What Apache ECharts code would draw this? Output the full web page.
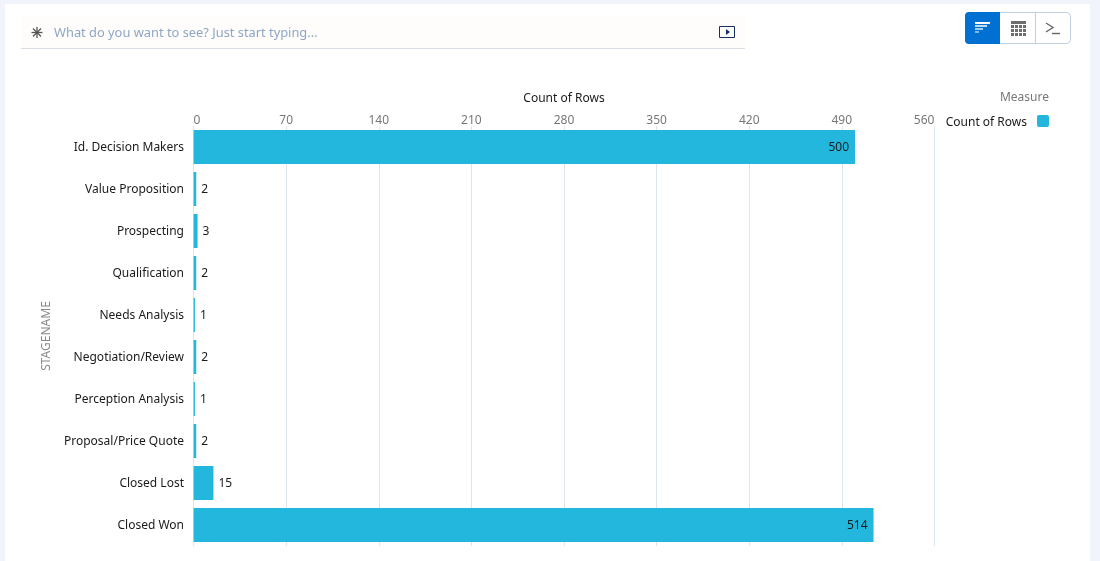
<!DOCTYPE html>
<html>
<head>
<meta charset="utf-8">
<style>html,body{margin:0;padding:0;background:#f1f4fa}#c{width:1100px;height:561px}</style>
<script src="https://cdn.jsdelivr.net/npm/echarts@6/dist/echarts.min.js"></script>
</head>
<body>
<div id="c"></div>
<script>
const categories = ['Id. Decision Makers','Value Proposition','Prospecting','Qualification','Needs Analysis','Negotiation/Review','Perception Analysis','Proposal/Price Quote','Closed Lost','Closed Won'];
const countOfRows = [500,2,3,2,1,2,1,2,15,514];
const seriesName = 'Count of Rows';
const xAxisName = 'Count of Rows';
const yAxisName = 'STAGENAME';
const legendTitle = 'Measure';
const placeholder = 'What do you want to see? Just start typing...';
const FONT = '"Noto Sans", sans-serif';
const BAR = '#23b7dd';

const chart = echarts.init(document.getElementById('c'), null, {renderer:'canvas'});

const line = (x1,y1,x2,y2,stroke,w) => ({type:'line',z:-3,shape:{x1,y1,x2,y2},style:{stroke,lineWidth:w||1}});
const rect = (x,y,width,height,fill,r) => ({type:'rect',z:-3,shape:{x,y,width,height,r:r||0},style:{fill}});

const chrome = [
  {type:'rect',z:-6,shape:{x:5,y:4,width:1085,height:557},style:{fill:'#ffffff'}},
  {type:'rect',z:-5,shape:{x:21,y:16,width:724,height:32},style:{fill:'#fefdfb'}},
  line(21,48.5,745,48.5,'#d8dde6'),
  {type:'text',z:-3,style:{x:54,y:33,text:placeholder,font:'12.85px '+FONT,fill:'#8ea6c6',textVerticalAlign:'middle'}},
  // spark icon
  line(37,27,37,38,'#555',1.3), line(31.5,32.5,42.5,32.5,'#555',1.3),
  line(33,28.5,41,36.5,'#555',1.3), line(41,28.5,33,36.5,'#555',1.3),
  // play icon
  {type:'rect',z:-3,shape:{x:719.5,y:26.5,width:15,height:11},style:{fill:'none',stroke:'#16325c',lineWidth:1}},
  {type:'polygon',z:-3,shape:{points:[[726,29],[726,35],[730,32]]},style:{fill:'#16325c'}},
  // button group
  {type:'rect',z:-5,shape:{x:965.5,y:12.5,width:105,height:31,r:4},style:{fill:'#fff',stroke:'#c0d0e2',lineWidth:1}},
  {type:'rect',z:-4,shape:{x:965,y:12,width:35,height:32,r:[4,0,0,4]},style:{fill:'#0070d2'}},
  line(1035.5,13,1035.5,43,'#c0d0e2'),
  rect(975,22,15,2,'#ffffff'), rect(975,25,12,2,'#bcdcf5'), rect(975,28,8,2,'#9fcdf0'), rect(975,31,4,2,'#7fbcec'),
  rect(1011,21,15,15,'#6e6e6e'),
  line(1011,24.5,1026,24.5,'#fff'), line(1011,28.5,1026,28.5,'#fff'), line(1011,32.5,1026,32.5,'#fff'),
  line(1014.5,24,1014.5,36,'#fff'), line(1018.5,24,1018.5,36,'#fff'), line(1022.5,24,1022.5,36,'#fff'),
  {type:'polyline',z:-3,shape:{points:[[1046,23],[1053,27.5],[1046,32]]},style:{fill:'none',stroke:'#666',lineWidth:1.4}},
  line(1052,33.5,1060,33.5,'#666',1.4)
];

chart.setOption({
  animation:false,
  backgroundColor:'transparent',
  textStyle:{fontFamily:FONT},
  title:{text:legendTitle,right:46,top:87,textStyle:{fontSize:12,fontWeight:'normal',color:'#777',fontFamily:FONT}},
  legend:{
    data:[seriesName],right:46,top:110,orient:'vertical',align:'right',
    itemWidth:12,itemHeight:16,itemGap:5,selectedMode:false,
    icon:'path://M2 0H10Q12 0 12 2V10Q12 12 10 12H2Q0 12 0 10V2Q0 0 2 0ZM0 16L12 16Z',
    textStyle:{fontSize:12,color:'#1a1a1a',fontFamily:FONT,padding:[0,5,0,0]}
  },
  grid:{left:193.6,top:126,width:740.8,height:420,containLabel:false},
  xAxis:{
    type:'value',position:'top',min:0,max:560,interval:70,
    name:xAxisName,nameLocation:'middle',nameGap:21,
    nameTextStyle:{fontSize:12,color:'#1a1a1a',fontFamily:FONT},
    axisLine:{show:false},axisTick:{show:false},
    axisLabel:{fontSize:12,color:'#777',margin:0,verticalAlign:'bottom',padding:[0,0,-1,0],alignMinLabel:'left',alignMaxLabel:'right',fontFamily:FONT},
    splitLine:{show:true,lineStyle:{color:'#dde6f0',width:1}}
  },
  yAxis:{
    type:'category',inverse:true,data:categories,
    name:yAxisName,nameLocation:'middle',nameGap:139,nameRotate:90,
    nameTextStyle:{fontSize:12,color:'#8a8a8a',fontFamily:FONT},
    axisLine:{show:true,lineStyle:{color:'#dde6f0'}},axisTick:{show:false},
    axisLabel:{fontSize:12,color:'#1a1a1a',margin:9.6,verticalAlign:'top',padding:[-5.5,0,0,0],fontFamily:FONT}
  },
  series:[{
    type:'bar',name:seriesName,barWidth:34,itemStyle:{color:BAR},
    data:countOfRows.map(v=>({value:v,label:v>100?{position:'insideRight',distance:6}:{position:'right',distance:5}})),
    label:{show:true,fontSize:12,color:'#1a1a1a',fontFamily:FONT,verticalAlign:'top',padding:[-5.5,0,0,0]}
  }],
  graphic:chrome
});
</script>
</body>
</html>
